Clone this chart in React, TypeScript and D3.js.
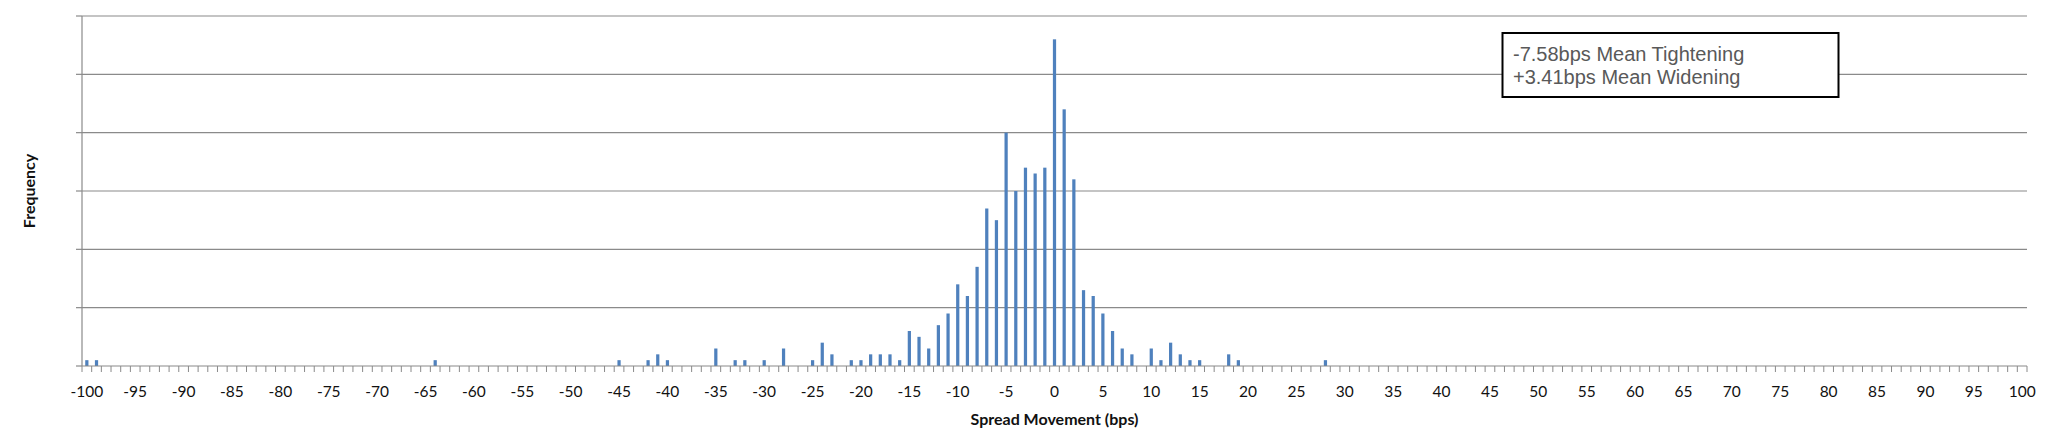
import React from 'react';
import * as d3 from 'd3';

// Histogram of daily spread moves, one bin per bp from -100 to +100.
// Only the bins with a count are listed; every other bin is zero.
const binBps: number[] = [
  -100, -99, -64, -45, -42, -41, -40, -35, -33, -32, -30, -28, -25, -24, -23,
  -21, -20, -19, -18, -17, -16, -15, -14, -13, -12, -11, -10, -9, -8, -7, -6,
  -5, -4, -3, -2, -1, 0, 1, 2, 3, 4, 5, 6, 7, 8, 10, 11, 12, 13, 14, 15, 18, 19, 28,
];
const binCount: number[] = [
  1, 1, 1, 1, 1, 2, 1, 3, 1, 1, 1, 3, 1, 4, 2,
  1, 1, 2, 2, 2, 1, 6, 5, 3, 7, 9, 14, 12, 17, 27, 25,
  40, 30, 34, 33, 34, 56, 44, 32, 13, 12, 9, 6, 3, 2, 3, 1, 4, 2, 1, 1, 2, 1, 1,
];

const axisMin = -100;
const axisMax = 100;
const yTicks: number[] = [0, 10, 20, 30, 40, 50, 60];
const legendLines: string[] = ['-7.58bps Mean Tightening', '+3.41bps Mean Widening'];
const xTitle = 'Spread Movement (bps)';
const yTitle = 'Frequency';

const W = 2048;
const H = 439;
const margin = { top: 16, right: 21, bottom: 73, left: 82 };

const BAR = '#4F81BD';
const GRID = '#8a8a8a';
const AXIS_FONT = "Lato, 'Open Sans', sans-serif";

export default function App() {
  const categories = d3.range(axisMin, axisMax + 1);

  // Excel-style category axis: gap width 200% -> bar is a third of the step
  const x = d3.scaleBand<number>()
    .domain(categories)
    .range([margin.left, W - margin.right])
    .paddingInner(2 / 3)
    .paddingOuter(1 / 3);
  const step = x.step();
  const x0 = margin.left;

  const y = d3.scaleLinear().domain([0, 60]).range([H - margin.bottom, margin.top]);
  const base = y(0);

  const labelCats = categories.filter(c => c % 5 === 0);

  return (
    <svg width={W} height={H} style={{ position: 'absolute', left: 0, top: 0, background: '#fff' }}>
      {/* gridlines */}
      {yTicks.filter(t => t > 0).map(t => (
        <line key={t} x1={x0} x2={W - margin.right} y1={y(t)} y2={y(t)} stroke={GRID} strokeWidth={1.2} />
      ))}
      {/* y axis */}
      <line x1={x0} x2={x0} y1={margin.top} y2={base} stroke={GRID} strokeWidth={1.2} />
      {yTicks.map(t => (
        <line key={'yt' + t} x1={x0 - 6} x2={x0} y1={y(t)} y2={y(t)} stroke={GRID} strokeWidth={1.2} />
      ))}

      {/* bars */}
      {binBps.map((b, i) => (
        <rect key={b} x={x(b)} y={y(binCount[i])} width={x.bandwidth()} height={base - y(binCount[i])} fill={BAR} />
      ))}

      {/* x axis */}
      <line x1={x0} x2={W - margin.right} y1={base} y2={base} stroke={GRID} strokeWidth={1.2} />
      {d3.range(categories.length + 1).map(k => (
        <line key={'xt' + k} x1={x0 + k * step} x2={x0 + k * step} y1={base} y2={base + 6} stroke={GRID} strokeWidth={1} />
      ))}
      {labelCats.map(c => (
        <text key={'xl' + c} x={(x(c) ?? 0) + x.bandwidth() / 2} y={base + 31} textAnchor="middle"
          fontFamily={AXIS_FONT} fontSize={15.5} fill="#111">
          {c}
        </text>
      ))}

      {/* axis titles */}
      <text x={(x0 + W - margin.right) / 2} y={H - 14} textAnchor="middle"
        fontFamily={AXIS_FONT} fontWeight="bold" fontSize={16} fill="#111">
        {xTitle}
      </text>
      <text transform={`translate(35,${(margin.top + base) / 2}) rotate(-90)`} textAnchor="middle"
        fontFamily={AXIS_FONT} fontWeight="bold" fontSize={16} fill="#111">
        {yTitle}
      </text>

      {/* annotation box */}
      <rect x={1502.5} y={33} width={336} height={64} fill="#fff" stroke="#000" strokeWidth={2} />
      {legendLines.map((l, i) => (
        <text key={l} x={1513} y={61 + i * 23.3} fontFamily="'Liberation Sans', Arial, sans-serif"
          fontSize={20} fill="#595959">
          {l}
        </text>
      ))}
    </svg>
  );
}
